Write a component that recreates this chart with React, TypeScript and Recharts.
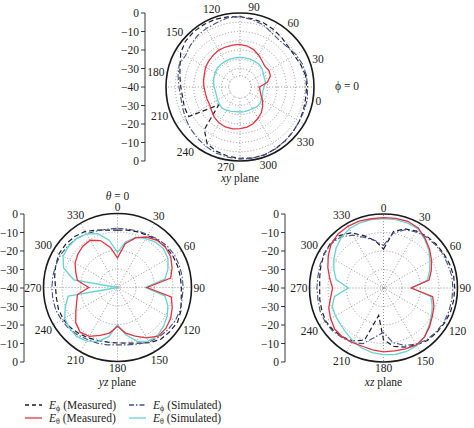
import React from 'react';
import { RadarChart, Radar, PolarGrid, PolarAngleAxis, PolarRadiusAxis, LineChart, Line, YAxis, XAxis } from 'recharts';

// angle categories (degrees)
const angles = [0, 10, 20, 30, 40, 50, 60, 70, 80, 90, 100, 110, 120, 130, 140, 150, 160, 170,
  180, 190, 200, 210, 220, 230, 240, 250, 260, 270, 280, 290, 300, 310, 320, 330, 340, 350];

// xy plane (phi, counter-clockwise from right), dB
const xyEphiMeasured = [-4, -5, -6, -6, -5, -4, -3, -2.5, -2, -1.5, -1, -1, -1, -1.5, -3, -5.5, -7, -8,
  -8.5, -8, -8, -25, -10, -4.5, -3, -2, -1.5, -1, -1, -1.5, -2, -2.5, -3, -3.5, -4, -4];
const xyEphiSimulated = [-3.5, -4, -5, -6.5, -7, -6, -4, -3, -2, -2, -3, -3.5, -4, -5, -6, -5, -6, -7,
  -7.5, -7, -6, -5, -4, -3, -2, -1.5, -1, -1, -1, -1.5, -2, -2.5, -3, -3, -3, -3.5];
const xyEthetaMeasured = [-25, -22.5, -22, -22.5, -21.5, -20, -18.5, -17.5, -17, -17, -17, -17, -17.5, -18, -18.5, -19.5, -20, -20.5,
  -21, -21, -21, -20, -18.5, -17.5, -17, -17, -17.5, -18, -19, -20.5, -22, -24, -26, -28, -29, -29.5];
const xyEthetaSimulated = [-26, -26, -25.5, -24.5, -24, -24, -24, -24, -24, -24, -24, -24, -24, -24, -24.5, -25, -25.5, -26,
  -26.5, -26.5, -26, -25.5, -25, -25.5, -26, -26.5, -26.5, -26.5, -26.5, -26.5, -26, -26, -26.5, -27, -27.5, -27];

// yz plane (theta, clockwise from top), dB
const yzEphiMeasured = [-9, -8.5, -8, -7.5, -6.5, -6, -5.5, -5.5, -5.5, -5.5, -5, -3.5, -2.5, -3, -3.5, -5.5, -8, -9.5,
  -10, -10, -9.5, -8.5, -7.5, -6.5, -6, -6, -6.5, -6.5, -5.5, -4.5, -3.5, -3.5, -4, -5, -7, -8.5];
const yzEphiSimulated = [-8, -8, -7.5, -7, -6, -5, -4.5, -4.5, -4.5, -4.5, -4.5, -4, -4, -4.5, -5, -6, -7.5, -8.5,
  -9, -8.5, -8, -7.5, -6.5, -5.5, -5, -4.5, -4.5, -4.5, -4.5, -4.5, -4.5, -5, -5.5, -6.5, -7.5, -8];
const yzEthetaMeasured = [-24, -16, -11.5, -8.5, -6.7, -6.2, -6.8, -8.6, -10.8, -24, -10.5, -8.5, -6.8, -5.8, -5.6, -8.5, -12, -15,
  -19, -15, -12.5, -9.5, -8.5, -10.5, -14, -16.5, -18, -24.5, -18, -16, -13.5, -12, -10.8, -10.5, -13, -18];
const yzEthetaSimulated = [-21, -15, -11, -9.5, -8, -7.5, -8.5, -11, -14, -25, -14, -11, -9, -7.5, -6.2, -6.5, -9, -14,
  -20, -13, -9, -6.5, -5.5, -6, -7, -10, -13, -40, -16, -9, -6, -5.5, -5.5, -6.5, -9, -14];

// xz plane (theta, clockwise from top), dB
const xzEphiMeasured = [-19, -9, -6, -4.5, -3.5, -3, -2.5, -2, -1.5, -1.5, -1.5, -1.5, -2, -2.5, -3, -4.5, -6, -8,
  -12, -25, -10, -7, -5.5, -4.5, -4, -4.5, -5, -5.5, -5, -4, -3, -2.5, -3, -5.5, -10, -14];
const xzEphiSimulated = [-17, -10, -6.5, -5, -4, -3.5, -3, -3, -2.5, -2.5, -2.5, -2.5, -2.5, -3, -3.5, -5, -7, -10,
  -16, -13, -8, -6, -5, -4, -3.5, -3.5, -4, -4, -4, -3.5, -3, -3, -4, -7, -11, -14];
const xzEthetaMeasured = [-2, -1.8, -1.6, -2.5, -5, -7.5, -10, -12.5, -15, -25, -13, -11, -9.5, -7.5, -5.5, -4.5, -5, -5.5,
  -5.5, -6, -6.5, -6, -5.5, -5.5, -7, -8.5, -11, -12.5, -10.5, -8, -5.5, -3, -1.8, -1.5, -1.5, -2];
const xzEthetaSimulated = [-2.5, -2.5, -2.5, -3, -5.5, -8, -11, -13.5, -16, -25, -14, -12, -10, -8, -5.5, -4, -3.5, -3.5,
  -4, -4.5, -5.5, -7, -8.5, -9.5, -10, -10.5, -13, -21, -14, -11.5, -9, -6.5, -4.5, -3, -2.5, -2.5];

// radial scale bar ticks (value axis spans the diameter: 0 at both ends, -40 in the middle)
const scaleMajorTicks = [-40, -30, -20, -10, 0, 10, 20, 30, 40];
const scaleMinorTicks = [-35, -25, -15, -5, 5, 15, 25, 35];
const scaleExtent = [-40, 40];
const spokeAngles = [0, 30, 60, 90, 120, 150, 180, 210, 240, 270, 300, 330];

const W = 474;
const H = 428;
const R = 74;
const FONT = "'Liberation Serif', 'DejaVu Serif', 'Times New Roman', serif";
const FS = 11.5;
const C_PHI_M = '#1d1d2b';
const C_PHI_S = '#44508c';
const C_TH_M = '#e5323f';
const C_TH_S = '#66d2d6';

const build = (em: number[], es: number[], tm: number[], ts: number[]) =>
  angles.map((a, i) => ({ a, em: em[i], es: es[i], tm: tm[i], ts: ts[i] }));

const xyData = build(xyEphiMeasured, xyEphiSimulated, xyEthetaMeasured, xyEthetaSimulated);
const yzData = build(yzEphiMeasured, yzEphiSimulated, yzEthetaMeasured, yzEthetaSimulated);
const xzData = build(xzEphiMeasured, xzEphiSimulated, xzEthetaMeasured, xzEthetaSimulated);

const dbToR = (db: number) => (R * (db + 40)) / 40;

function makeAngleTick(cx: number, cy: number) {
  return (props: any) => {
    const { payload } = props;
    const v = Number(payload.value);
    if (v % 30 !== 0) return <g />;
    const ang = (payload.coordinate * Math.PI) / 180;
    const c = Math.cos(ang);
    const s = Math.sin(ang);
    const label = String(v);
    const hw = label.length * 2.9;
    const r = R + 2 + Math.abs(c) * hw + Math.abs(s) * 4.2;
    return (
      <text x={cx + r * c} y={cy - r * s} textAnchor="middle" dominantBaseline="central"
        fontSize={FS} fill="#222" fontFamily={FONT}>{label}</text>
    );
  };
}

function PolarPlot(props: {
  data: any[]; cx: number; cy: number;
  startAngle: number; endAngle: number; innerR: number; minDb: number; rings: number[];
}) {
  const { data, cx, cy, startAngle, endAngle, innerR, minDb, rings } = props;
  return (
    <div style={{ position: 'absolute', left: 0, top: 0 }}>
      <RadarChart width={W} height={H} data={data} cx={cx} cy={cy}
        outerRadius={R} innerRadius={innerR} startAngle={startAngle} endAngle={endAngle}
        margin={{ top: 0, right: 0, bottom: 0, left: 0 }}>
        <PolarGrid gridType="circle" polarRadius={rings.map(dbToR)} polarAngles={spokeAngles}
          stroke="#8a8a8a" strokeWidth={0.9} strokeDasharray="1 2" />
        <PolarAngleAxis dataKey="a" tick={makeAngleTick(cx, cy)} tickLine={false}
          axisLineType="circle" axisLine={{ stroke: '#1a1a1a', strokeWidth: 1.6 }} />
        <PolarRadiusAxis type="number" domain={[minDb, 0]} allowDataOverflow tick={false} axisLine={false} />
        <Radar dataKey="em" stroke={C_PHI_M} strokeWidth={1.2} strokeDasharray="5 3" fill="none" fillOpacity={0} dot={false} isAnimationActive={false} />
        <Radar dataKey="es" stroke={C_PHI_S} strokeWidth={1.1} strokeDasharray="6 2 1.5 2" fill="none" fillOpacity={0} dot={false} isAnimationActive={false} />
        <Radar dataKey="ts" stroke={C_TH_S} strokeWidth={1.3} fill="none" fillOpacity={0} dot={false} isAnimationActive={false} />
        <Radar dataKey="tm" stroke={C_TH_M} strokeWidth={1.3} fill="none" fillOpacity={0} dot={false} isAnimationActive={false} />
      </RadarChart>
    </div>
  );
}

const scaleLabel = (v: number) => {
  const lab = Math.abs(v) - 40;
  return lab === 0 ? '0' : '\u2212' + String(Math.abs(lab));
};

// axisX: x of the vertical scale line; cy: centre of the matching polar plot
function ScaleBar({ axisX, cy }: { axisX: number; cy: number }) {
  const data = scaleExtent.map((v, t) => ({ t, v }));
  const yw = 40;
  return (
    <div style={{ position: 'absolute', left: axisX - yw, top: cy - R - 8 }}>
      <LineChart width={yw + 20} height={2 * R + 16} data={data} margin={{ top: 8, right: 18, bottom: 8, left: 0 }}>
        <XAxis dataKey="t" type="number" domain={[0, 1]} hide />
        <YAxis yAxisId="major" type="number" domain={[-40, 40]} ticks={scaleMajorTicks} interval={0} width={yw}
          tickSize={4} tickMargin={2} tickFormatter={scaleLabel}
          tick={{ fontSize: FS, fill: '#222', fontFamily: FONT }}
          tickLine={{ stroke: '#222', strokeWidth: 0.9 }}
          axisLine={{ stroke: '#222', strokeWidth: 0.9 }} />
        <YAxis yAxisId="minor" type="number" domain={[-40, 40]} ticks={scaleMinorTicks} interval={0} width={0}
          tickSize={2.5} tickMargin={0} tickFormatter={() => ''}
          tickLine={{ stroke: '#222', strokeWidth: 0.9 }} axisLine={false} />
        <Line yAxisId="major" dataKey="v" stroke="none" dot={false} activeDot={false} isAnimationActive={false} />
        <Line yAxisId="minor" dataKey="v" stroke="none" dot={false} activeDot={false} isAnimationActive={false} />
      </LineChart>
    </div>
  );
}

const label = (x: number, y: number, content: React.ReactNode, size = FS) => (
  <div style={{
    position: 'absolute', left: x, top: y, transform: 'translate(-50%, -50%)', whiteSpace: 'nowrap',
    fontFamily: FONT, fontSize: size, color: '#222', lineHeight: 1,
  }}>{content}</div>
);

function Legend() {
  const row = (y: number, x0: number, color: string, dash: string | undefined, sym: string, text: string) => (
    <g>
      <line x1={x0} x2={x0 + 17} y1={y} y2={y} stroke={color} strokeWidth={1.3} strokeDasharray={dash} />
      <text x={x0 + 24} y={y} dominantBaseline="central" fontFamily={FONT} fontSize={11.5} fill="#222">
        <tspan fontStyle="italic">E</tspan>
        <tspan fontSize={8} dy={3}>{sym}</tspan>
        <tspan dy={-3}>{' ' + text}</tspan>
      </text>
    </g>
  );
  return (
    <svg style={{ position: 'absolute', left: 0, top: 396 }} width={300} height={30}>
      {row(9, 25, C_PHI_M, '4 3', '\u03D5', '(Measured)')}
      {row(9, 129, C_PHI_S, '5 2 1.5 2', '\u03D5', '(Simulated)')}
      {row(22, 25, C_TH_M, undefined, '\u03B8', '(Measured)')}
      {row(22, 129, C_TH_S, undefined, '\u03B8', '(Simulated)')}
    </svg>
  );
}

export default function App() {
  return (
    <div style={{ position: 'absolute', left: 0, top: 0, width: W, height: H, background: '#fff', overflow: 'hidden' }}>
      {/* xy plane */}
      <PolarPlot data={xyData} cx={240} cy={87}
        startAngle={0} endAngle={360} innerR={dbToR(-34)} minDb={-34}
        rings={[-34, -30, -25, -20, -15, -10, -5]} />
      <ScaleBar axisX={145} cy={87} />
      {label(240, 179, <span><i>xy</i> plane</span>)}
      {label(347, 87, <span>{'\u03D5 = 0'}</span>)}

      {/* yz plane */}
      <PolarPlot data={yzData} cx={117.5} cy={287.5}
        startAngle={90} endAngle={-270} innerR={0} minDb={-40}
        rings={[-39, -30, -20, -10]} />
      <ScaleBar axisX={24} cy={287.5} />
      {label(117.5, 197, <span><i>{'\u03B8'}</i>{' = 0'}</span>)}
      {label(117.5, 383, <span><i>yz</i> plane</span>)}

      {/* xz plane */}
      <PolarPlot data={xzData} cx={383.5} cy={288}
        startAngle={90} endAngle={-270} innerR={0} minDb={-40}
        rings={[-39, -30, -20, -10]} />
      <ScaleBar axisX={285} cy={288} />
      {label(383.5, 383, <span><i>xz</i> plane</span>)}

      <Legend />
    </div>
  );
}
